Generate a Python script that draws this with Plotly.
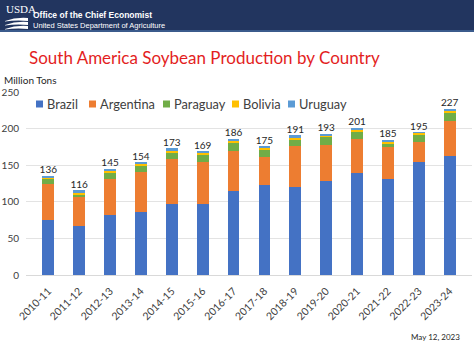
import plotly.graph_objects as go

seasons = ["2010-11", "2011-12", "2012-13", "2013-14", "2014-15", "2015-16", "2016-17",
           "2017-18", "2018-19", "2019-20", "2020-21", "2021-22", "2022-23", "2023-24"]
brazil = [75.3, 66.5, 82.0, 86.7, 97.2, 96.5, 114.6, 123.0, 120.5, 129.0, 139.5, 130.5, 154.5, 163.0]
argentina = [49.0, 40.1, 49.3, 53.4, 61.4, 58.5, 55.0, 37.8, 55.9, 48.8, 46.2, 44.0, 27.0, 48.0]
paraguay = [7.1, 4.0, 8.3, 8.2, 8.1, 9.2, 10.7, 10.3, 8.5, 10.3, 9.9, 4.2, 9.8, 10.0]
bolivia = [2.3, 2.7, 2.4, 2.8, 3.1, 3.0, 2.9, 2.5, 2.9, 2.8, 3.3, 3.1, 3.0, 3.1]
uruguay = [1.8, 2.7, 2.8, 3.2, 3.1, 2.2, 3.2, 1.3, 2.8, 2.0, 1.7, 3.2, 0.7, 3.3]
totals = [136, 116, 145, 154, 173, 169, 186, 175, 191, 193, 201, 185, 195, 227]

series = [("Brazil", brazil, "#4472C4"), ("Argentina", argentina, "#ED7D31"),
          ("Paraguay", paraguay, "#70AD47"), ("Bolivia", bolivia, "#FFC000"),
          ("Uruguay", uruguay, "#5B9BD5")]

W, H = 474, 353
ML, MR, MT, MB = 26, 2, 92, 78
PW, PH = W - ML - MR, H - MT - MB


def px(x):
    return (x - ML) / PW


def py(y):
    return (H - MB - y) / PH


FONT = "Lato, 'Liberation Sans', sans-serif"

fig = go.Figure()
for name, vals, col in series:
    fig.add_trace(go.Bar(x=seasons, y=vals, name=name, marker=dict(color=col, line=dict(width=0)),
                         showlegend=False))

fig.add_trace(go.Scatter(x=seasons, y=totals, mode="text", text=[str(t) for t in totals],
                         textposition="top center", textfont=dict(size=10, color="#262626", family=FONT),
                         showlegend=False, hoverinfo="skip"))

shapes = []
annotations = []

# header banner
shapes.append(dict(type="rect", xref="paper", yref="paper", x0=px(0), x1=px(W), y0=py(31), y1=py(0),
                   fillcolor="#22355F", line=dict(width=0), layer="above"))
shapes.append(dict(type="rect", xref="paper", yref="paper", x0=px(0), x1=px(W), y0=py(32), y1=py(30),
                   fillcolor="#3B5B8C", line=dict(width=0), layer="above"))
# USDA logo swooshes
for (ya, yb) in [(18, 21), (22, 25), (26, 29)]:
    path = (f"M {px(5)},{py(yb)} Q {px(16)},{py(ya - 1)} {px(28)},{py(ya)} "
            f"L {px(28)},{py(yb)} Q {px(16)},{py(yb - 1)} {px(5)},{py(yb + 0.5)} Z")
    shapes.append(dict(type="path", xref="paper", yref="paper", path=path,
                       fillcolor="white", line=dict(width=0), layer="above"))
annotations.append(dict(x=px(4), y=py(9), xref="paper", yref="paper", xanchor="left", yanchor="middle",
                        text="USDA", showarrow=False,
                        font=dict(family="'Liberation Serif', serif", size=11, color="white")))
annotations.append(dict(x=px(31), y=py(15), xref="paper", yref="paper", xanchor="left", yanchor="middle",
                        text="<b>Office of the Chief Economist</b>", showarrow=False,
                        font=dict(family="'Liberation Sans', Arial, sans-serif", size=8.5, color="white")))
annotations.append(dict(x=px(31), y=py(25.5), xref="paper", yref="paper", xanchor="left", yanchor="middle",
                        text="United States Department of Agriculture", showarrow=False,
                        font=dict(family="'Liberation Sans Narrow', 'Liberation Sans', sans-serif",
                                  size=7.5, color="white")))

# title
annotations.append(dict(x=px(27), y=py(57), xref="paper", yref="paper", xanchor="left", yanchor="middle",
                        text="South America Soybean Production by Country", showarrow=False,
                        font=dict(family=FONT, size=17, color="#E31E1E")))
annotations.append(dict(x=px(2), y=py(80), xref="paper", yref="paper", xanchor="left", yanchor="middle",
                        text="Million Tons", showarrow=False,
                        font=dict(family=FONT, size=10, color="#262626")))
annotations.append(dict(x=px(462), y=py(337), xref="paper", yref="paper", xanchor="right", yanchor="middle",
                        text="May 12, 2023", showarrow=False,
                        font=dict(family=FONT, size=8, color="#262626")))

# legend
leg_sq = [36, 89, 163, 232, 288]
for (name, vals, col), sx in zip(series, leg_sq):
    shapes.append(dict(type="rect", xref="paper", yref="paper", x0=px(sx), x1=px(sx + 7),
                       y0=py(107.5), y1=py(100.5), fillcolor=col, line=dict(width=0)))
    annotations.append(dict(x=px(sx + 9), y=py(103.5), xref="paper", yref="paper", xanchor="left",
                            yanchor="middle", text=name, showarrow=False,
                            font=dict(family=FONT, size=12.8, color="#404040")))

fig.update_layout(
    width=W, height=H,
    margin=dict(l=ML, r=MR, t=MT, b=MB),
    barmode="stack", bargap=0.62,
    paper_bgcolor="white", plot_bgcolor="white",
    shapes=shapes, annotations=annotations,
    font=dict(family=FONT, color="#404040"),
    xaxis=dict(type="category", tickangle=-45, tickfont=dict(size=10.5, color="#404040"), showgrid=False,
               showline=True, linecolor="#D9D9D9", linewidth=1, ticks="outside", ticklen=5,
               tickcolor="rgba(0,0,0,0)"),
    yaxis=dict(range=[0, 250], dtick=50, showgrid=True, gridcolor="#E3E3E3", gridwidth=1,
               tickfont=dict(size=10, color="#404040"), zeroline=False, ticklabelstandoff=6),
)

fig.write_html("out.html")
